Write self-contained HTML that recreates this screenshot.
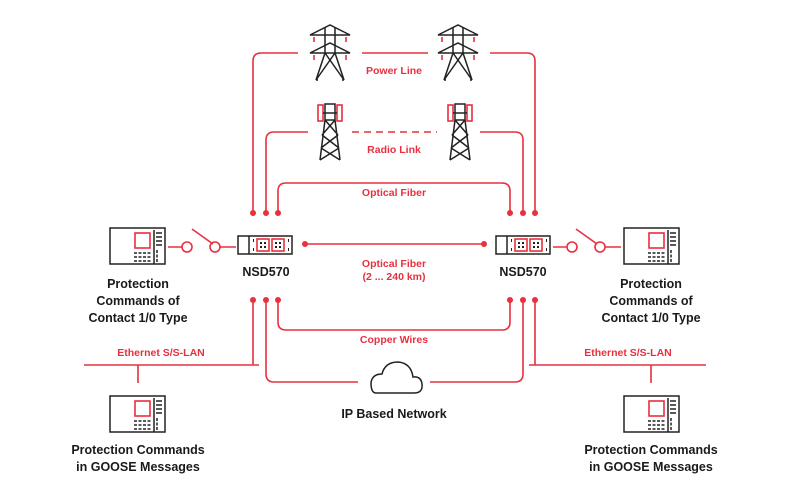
<!DOCTYPE html>
<html><head><style>
html,body{margin:0;padding:0;background:#fff;}
svg{display:block;font-family:"Liberation Sans",Arial,sans-serif;}
.r{stroke:#e8303f;stroke-width:1.6;fill:none;}
.k{stroke:#222;stroke-width:1.5;fill:none;}
.rt{fill:#e8303f;font-size:10.5px;font-weight:bold;text-anchor:middle;}
.bt{fill:#1a1a1a;font-size:12.5px;font-weight:bold;text-anchor:middle;}
</style></head><body>
<svg width="800" height="500" viewBox="0 0 800 500">
<defs>
<g id="pt">
 <path class="k" d="M-20,35 L0,25 L20,35 Z M-20,35 H20 M-20,53 L0,43 L20,53 Z M-20,53 H20 M-5,27 V53 M5,27 V53 M-5,53 L-14,80 M5,53 L14,80 M-5,53 L14,80 M5,53 L-14,80 M-14,80 H-12 M12,80 H14"/>
 <path class="r" d="M-16,37 V42 M16,37 V42 M-16,55 V60 M16,55 V60" stroke-width="1.2"/>
</g>
<g id="rt">
 <rect class="r" x="-12" y="105" width="5" height="16" stroke-width="1.2"/>
 <rect class="r" x="7" y="105" width="5" height="16" stroke-width="1.2"/>
 <path class="k" d="M-5,104 H5 V120 H-5 Z M-7,113 H7 M-5,120 L-10,160 M5,120 L10,160 M-5,120 L8,135 M5,120 L-8,135 M-8,135 L9,148 M8,135 L-9,148 M-9,148 L10,160 M9,148 L-10,160"/>
</g>
<g id="dev">
 <rect class="k" x="0" y="0" width="55" height="36"/>
 <rect class="r" x="25" y="5" width="15" height="15"/>
 <path class="k" d="M44,2 V36 M46,5 H52 M46,9 H52 M46,13 H52 M46,17 H52" stroke-width="1"/>
 <path class="k" d="M24,25 H42 M24,29 H42 M24,33 H42 M47,22 V34" stroke-width="1" stroke-dasharray="3 1.5"/>
</g>
<g id="nsd">
 <rect class="k" x="0" y="0" width="54" height="18"/>
 <path class="k" d="M11,0 V18"/>
 <rect class="r" x="19" y="3" width="12" height="12" stroke-width="1.2"/>
 <rect class="r" x="34" y="3" width="12" height="12" stroke-width="1.2"/>
 <g fill="#222"><rect x="22" y="6" width="2" height="2"/><rect x="26" y="6" width="2" height="2"/><rect x="22" y="10" width="2" height="2"/><rect x="26" y="10" width="2" height="2"/>
 <rect x="37" y="6" width="2" height="2"/><rect x="41" y="6" width="2" height="2"/><rect x="37" y="10" width="2" height="2"/><rect x="41" y="10" width="2" height="2"/>
 <rect x="15" y="3" width="1" height="3"/><rect x="15" y="12" width="1" height="3"/><rect x="50" y="3" width="1" height="3"/><rect x="50" y="12" width="1" height="3"/></g>
</g>
</defs>

<!-- towers -->
<use href="#pt" x="330" y="0"/>
<use href="#pt" x="458" y="0"/>
<use href="#rt" x="330" y="0"/>
<use href="#rt" x="460" y="0"/>

<!-- top lines -->
<path class="r" d="M253,213 V61 Q253,53 261,53 H298 M362,53 H428 M490,53 H527 Q535,53 535,61 V213"/>
<path class="r" d="M266,213 V140 Q266,132 274,132 H308 M480,132 H515 Q523,132 523,140 V213"/>
<path class="r" d="M352,132 H437" stroke-dasharray="7 5"/>
<path class="r" d="M278,213 V191 Q278,183 286,183 H502 Q510,183 510,191 V213"/>
<g fill="#e8303f">
<circle cx="253" cy="213" r="3"/><circle cx="266" cy="213" r="3"/><circle cx="278" cy="213" r="3"/>
<circle cx="510" cy="213" r="3"/><circle cx="523" cy="213" r="3"/><circle cx="535" cy="213" r="3"/>
<circle cx="253" cy="300" r="3"/><circle cx="266" cy="300" r="3"/><circle cx="278" cy="300" r="3"/>
<circle cx="510" cy="300" r="3"/><circle cx="523" cy="300" r="3"/><circle cx="535" cy="300" r="3"/>
<circle cx="305" cy="244" r="3"/><circle cx="484" cy="244" r="3"/>
</g>
<text class="rt" x="394" y="74">Power Line</text>
<text class="rt" x="394" y="153">Radio Link</text>
<text class="rt" x="394" y="196">Optical Fiber</text>

<!-- middle -->
<path class="r" d="M305,244 H484"/>
<text class="rt" x="394" y="267">Optical Fiber</text>
<text class="rt" x="394" y="280">(2 ... 240 km)</text>
<use href="#nsd" x="238" y="236"/>
<use href="#nsd" x="496" y="236"/>
<text class="bt" x="266" y="276">NSD570</text>
<text class="bt" x="523" y="276">NSD570</text>

<use href="#dev" x="110" y="228"/>
<use href="#dev" x="624" y="228"/>
<path class="r" d="M168,247 H182 M219,247 H236"/>
<circle class="r" cx="187" cy="247" r="5"/><circle class="r" cx="215" cy="247" r="5"/>
<path class="r" d="M192,229 L213,244"/>
<path class="r" d="M553,247 H567 M605,247 H621"/>
<circle class="r" cx="572" cy="247" r="5"/><circle class="r" cx="600" cy="247" r="5"/>
<path class="r" d="M576,229 L597,244"/>
<text class="bt" x="138" y="288">Protection</text>
<text class="bt" x="138" y="305">Commands of</text>
<text class="bt" x="138" y="322">Contact 1/0 Type</text>
<text class="bt" x="651" y="288">Protection</text>
<text class="bt" x="651" y="305">Commands of</text>
<text class="bt" x="651" y="322">Contact 1/0 Type</text>

<!-- bottom -->
<path class="r" d="M278,300 V322 Q278,330 286,330 H502 Q510,330 510,322 V300"/>
<text class="rt" x="394" y="343">Copper Wires</text>
<path class="r" d="M266,300 V374 Q266,382 274,382 H358 M430,382 H515 Q523,382 523,374 V300"/>
<path class="r" d="M253,300 V365 M84,365 H259 M138,365 V383"/>
<path class="r" d="M535,300 V365 M529,365 H706 M651,365 V383"/>
<text class="rt" x="161" y="356">Ethernet S/S-LAN</text>
<text class="rt" x="628" y="356">Ethernet S/S-LAN</text>
<path class="k" d="M376,393 H414 Q423,393 422,384 Q421,376 413,377 Q411,363 398,362 Q385,362 382,374 Q372,374 371,383 Q371,393 376,393 Z"/>
<text class="bt" x="394" y="418">IP Based Network</text>

<use href="#dev" x="110" y="396"/>
<use href="#dev" x="624" y="396"/>
<text class="bt" x="138" y="454">Protection Commands</text>
<text class="bt" x="138" y="471">in GOOSE Messages</text>
<text class="bt" x="651" y="454">Protection Commands</text>
<text class="bt" x="651" y="471">in GOOSE Messages</text>
</svg>
</body></html>
